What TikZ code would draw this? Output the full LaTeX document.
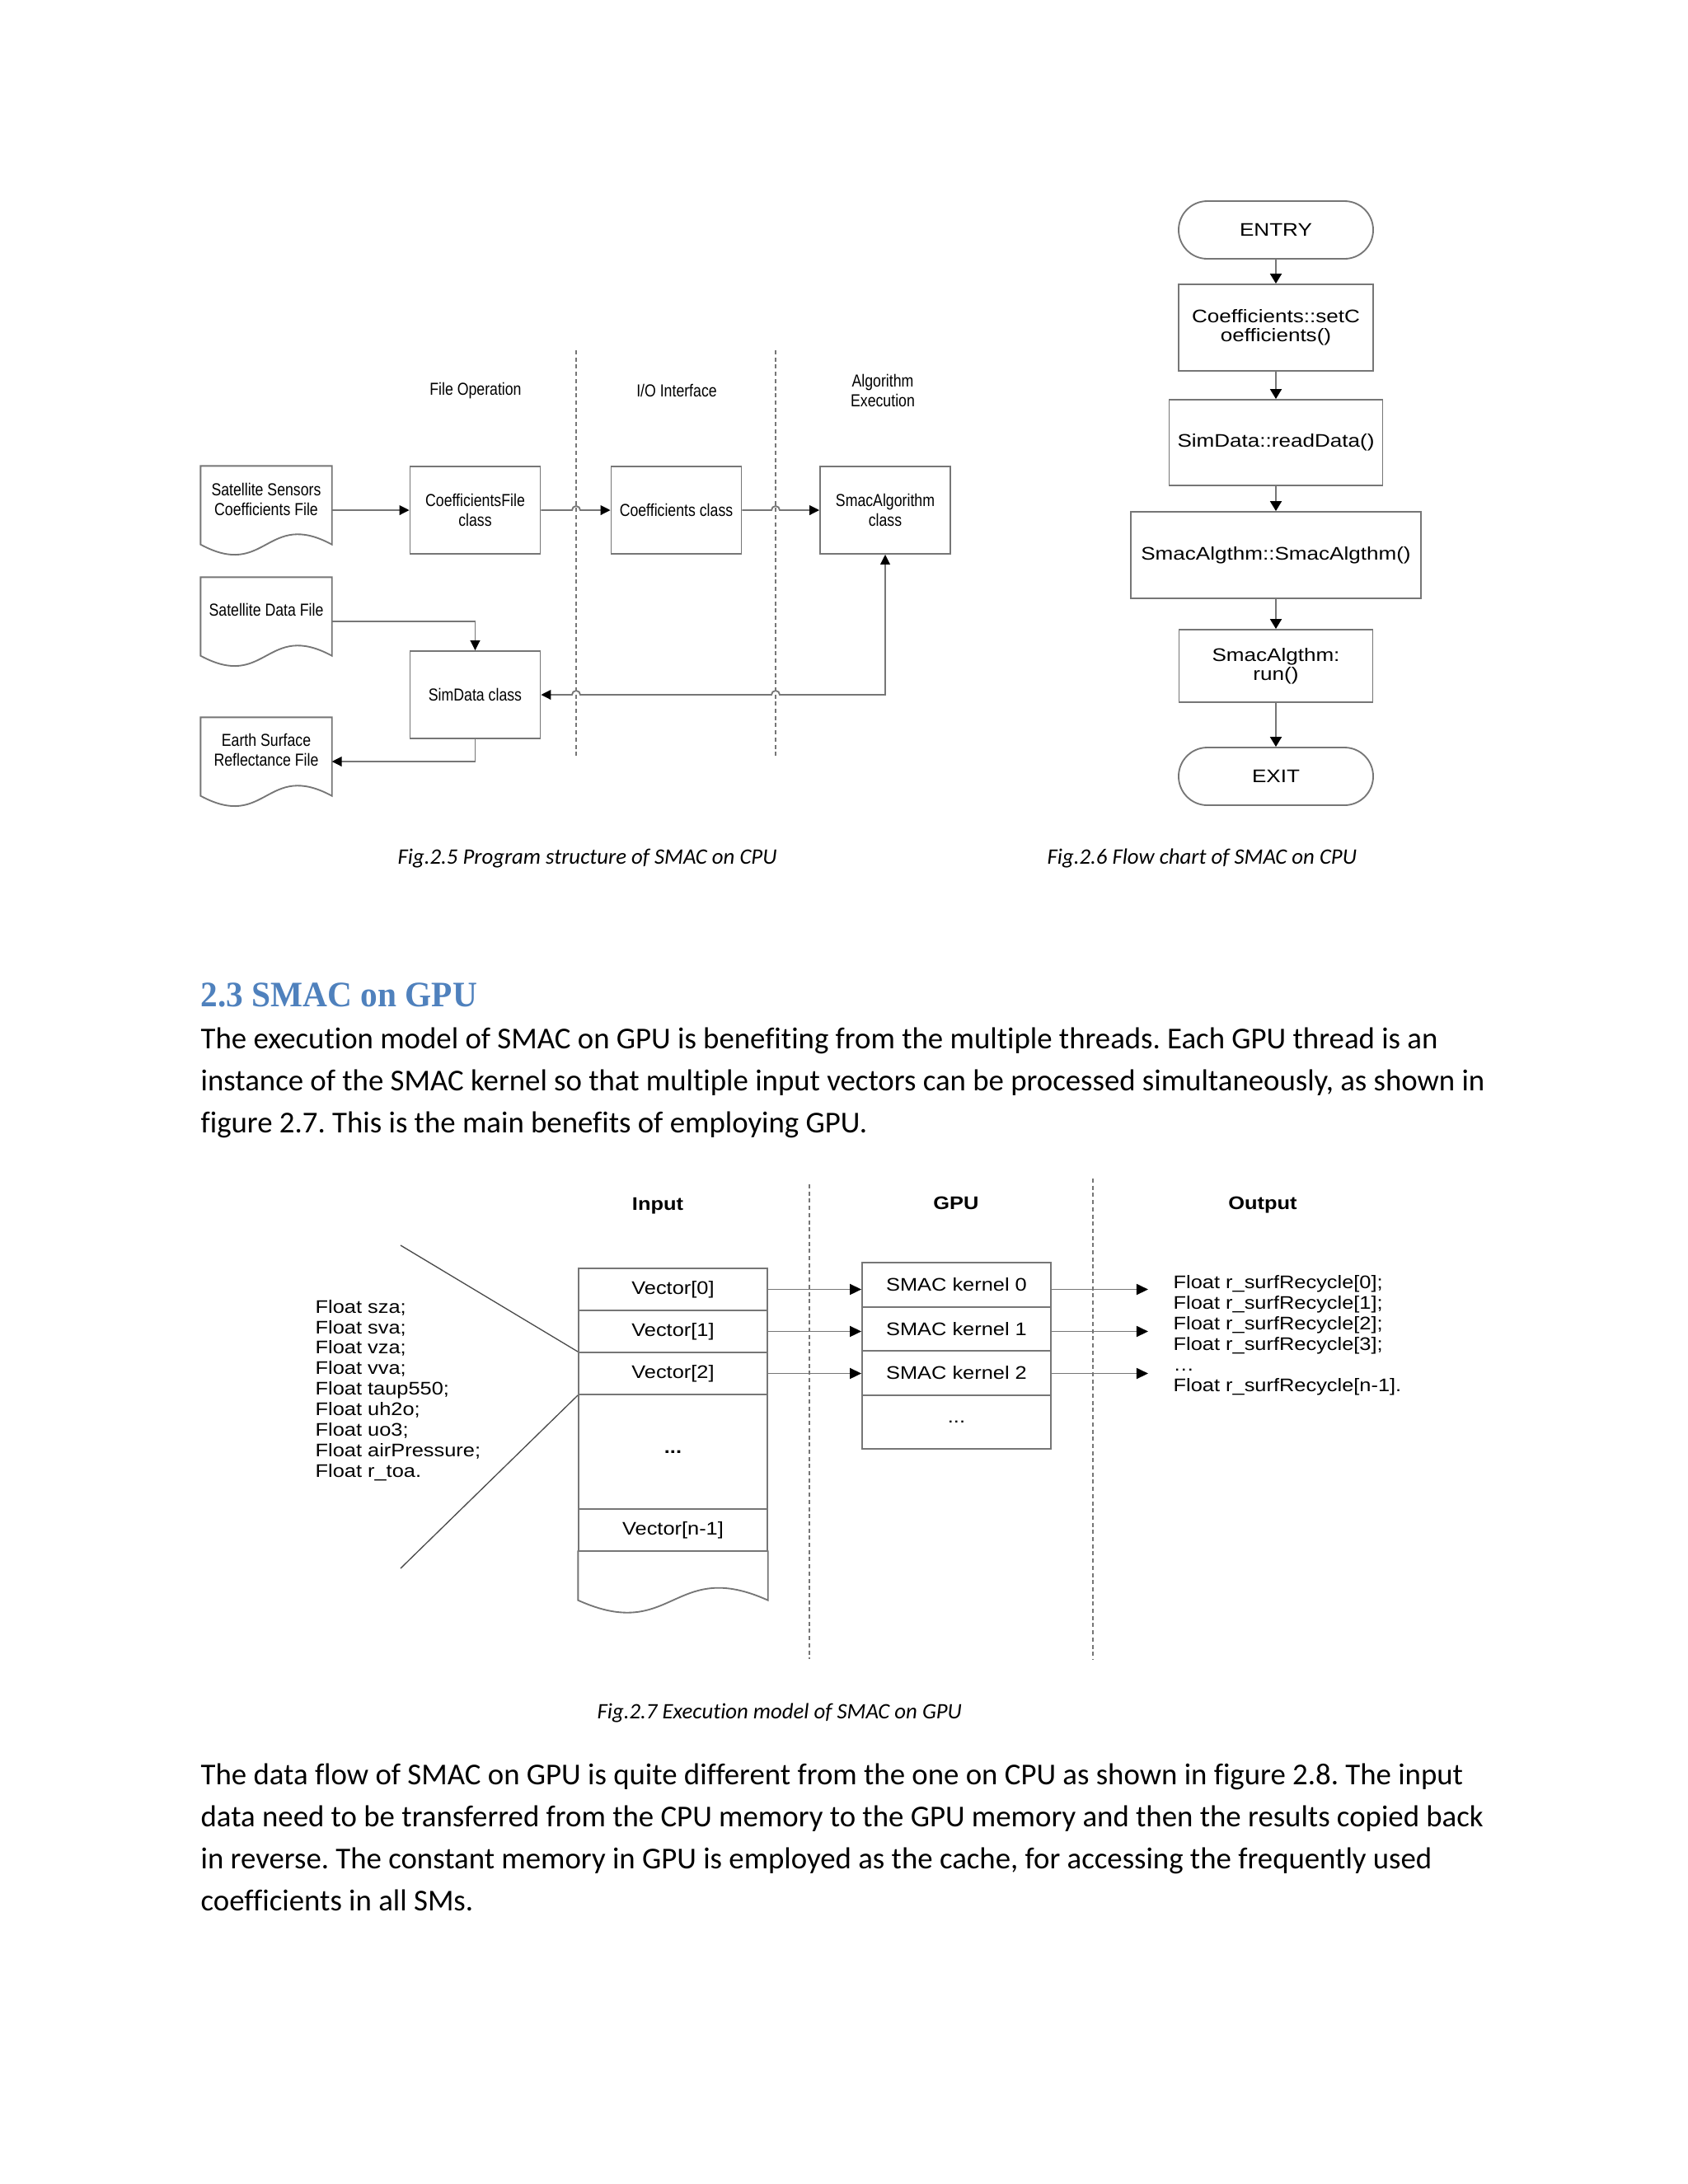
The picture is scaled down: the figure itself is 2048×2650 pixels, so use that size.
\documentclass[tikz,border=0pt]{standalone}
\usepackage{fontspec}
\setmainfont{Carlito}[Ligatures={TeX,NoCommon}]
\newfontfamily\fa[FakeStretch=0.84]{Liberation Sans}
\newfontfamily\fb[FakeStretch=1.18]{Liberation Sans}
\newfontfamily\fc[FakeStretch=1.15]{Liberation Sans}
\newfontfamily\fh[FakeStretch=0.95]{Liberation Serif}
\usetikzlibrary{arrows.meta,calc}
\newlength\upx
\setlength\upx{0.29883pt}
\definecolor{headblue}{RGB}{79,129,189}
\definecolor{linegray}{RGB}{118,118,118}
\frenchspacing
\tikzset{
  ftip/.tip={Triangle[length=3.6pt,width=3.5pt,color=black]},
  ftipB/.tip={Triangle[length=3.6pt,width=4.2pt,color=black]},
  ftipC/.tip={Triangle[length=4.2pt,width=3.9pt,color=black]},
  shapeline/.style={draw=linegray, line width=0.55pt},
  box/.style={shapeline, rectangle, inner sep=0pt, align=center},
  boxA/.style={box, minimum width=158\upx, minimum height=106\upx, font=\fa\fontsize{6.3}{7.3}\selectfont},
  docA/.style={inner sep=0pt, minimum width=158\upx, minimum height=106\upx},
  txtA/.style={align=center, inner sep=0pt, font=\fa\fontsize{6.3}{7.3}\selectfont},
  boxB/.style={box, font=\fb\fontsize{6.6}{6.9}\selectfont},
  term/.style={boxB, minimum width=236\upx, minimum height=70\upx, rounded corners=10.4pt},
  cell/.style={box, minimum width=229\upx, font=\fc\fontsize{6.6}{7.45}\selectfont},
  txtC/.style={align=left, inner sep=0pt, font=\fc\fontsize{6.6}{7.45}\selectfont},
  lblC/.style={inner sep=0pt, font=\fc\bfseries\fontsize{6.6}{7.45}\selectfont},
  conn/.style={draw=linegray, line width=0.55pt, -ftip},
  connB/.style={draw=linegray, line width=0.55pt, -ftipB},
  connC/.style={draw=linegray, line width=0.55pt, -ftipC},
  dashline/.style={draw=linegray, line width=0.45pt, dash pattern=on 1.5pt off 1.1pt},
  thinline/.style={draw=black!70, line width=0.4pt},
  figcap/.style={inner sep=0pt, font=\itshape\fontsize{8}{9}\selectfont},
  head/.style={inner sep=0pt, text=headblue, font=\fh\bfseries\fontsize{13}{15}\selectfont},
  body/.style={inner sep=0pt, font=\fontsize{11}{15.3}\selectfont}
}
\begin{document}
\begin{tikzpicture}[x=0.29883pt, y=-0.29883pt]
\useasboundingbox[fill=white] (0,0) rectangle (2048,2650);

% ---------------- Fig 2.5 ----------------
\coordinate (dl1t) at (699,425); \coordinate (dl1b) at (699,919);
\coordinate (dl2t) at (941,425); \coordinate (dl2b) at (941,919);
\draw[dashline] (dl1t) -- (dl1b);
\draw[dashline] (dl2t) -- (dl2b);

\node[txtA] (lfo) at (577,474) {File Operation};
\node[txtA] (lio) at (821,474) {I/O Interface};
\node[txtA] (lae) at (1071,474) {Algorithm\\Execution};

\node[docA] (sens) at (323,619) {};
\node[docA] (sdat) at (323,754) {};
\node[docA] (earth) at (323,924) {};
\foreach \n in {sens,sdat,earth}{
  \draw[shapeline] (\n.north west) -- (\n.north east) -- ([yshift=12\upx]\n.south east)
    .. controls ([yshift=55\upx]\n.south) and ([yshift=-31\upx]\n.south) .. ([yshift=12\upx]\n.south west) -- cycle;
}
\node[txtA] (sensT) at (323,606) {Satellite Sensors\\Coefficients File};
\node[txtA] (sdatT) at (323,740) {Satellite Data File};
\node[txtA] (earthT) at (323,910) {Earth Surface\\Reflectance File};

\node[boxA] (cf) at (576.5,619) {CoefficientsFile\\class};
\node[boxA] (cc) at (820.5,619) {Coefficients class};
\node[boxA] (sa) at (1074,619) {SmacAlgorithm\\class};
\node[boxA] (sim) at (576.5,843) {SimData class};

\draw[conn] (sens.east) -- (cf.west);
\draw[conn] (cf.east) -- ($(cf.east -| dl1t)+(-5,0)$) arc[start angle=180,end angle=0,radius=5\upx] -- (cc.west);
\draw[conn] (cc.east) -- ($(cc.east -| dl2t)+(-5,0)$) arc[start angle=180,end angle=0,radius=5\upx] -- (sa.west);
\draw[conn] (sdat.east) -| (sim.north);
\draw[conn] (sim.south) |- (earth.east);
\draw[draw=linegray, line width=0.55pt, ftip-ftip] (sim.east) -- ($(sim.east -| dl1t)+(-5,0)$) arc[start angle=180,end angle=0,radius=5\upx]
   -- ($(sim.east -| dl2t)+(-5,0)$) arc[start angle=180,end angle=0,radius=5\upx] -| (sa.south);

\node[figcap, anchor=base west] (cap25) at (482,1048) {Fig.2.5 Program structure of SMAC on CPU};

% ---------------- Fig 2.6 ----------------
\node[term] (entry) at (1548,279) {ENTRY};
\node[boxB, minimum width=236\upx, minimum height=105\upx] (setc) at (1548,397.5) {Coefficients::setC\\oefficients()};
\node[boxB, minimum width=259\upx, minimum height=104\upx] (read) at (1548,537) {SimData::readData()};
\node[boxB, minimum width=352\upx, minimum height=105\upx] (ctor) at (1548,673.5) {SmacAlgthm::SmacAlgthm()};
\node[boxB, minimum width=235\upx, minimum height=88\upx] (run) at (1548,808) {SmacAlgthm:\\run()};
\node[term] (exit) at (1548,942) {EXIT};
\draw[connB] (entry.south) -- (setc.north);
\draw[connB] (setc.south) -- (read.north);
\draw[connB] (read.south) -- (ctor.north);
\draw[connB] (ctor.south) -- (run.north);
\draw[connB] (run.south) -- (exit.north);

\node[figcap, anchor=base west] (cap26) at (1270,1048) {Fig.2.6 Flow chart of SMAC on CPU};

% ---------------- Text ----------------
\node[head, anchor=base west] (h23) at (243,1221) {2.3 SMAC on GPU};
\node[body, anchor=base west] (p1a) at (243,1272) {The execution model of SMAC on GPU is benefiting from the multiple threads. Each GPU thread is an};
\node[body, anchor=base west] (p1b) at (243,1323) {instance of the SMAC kernel so that multiple input vectors can be processed simultaneously, as shown in};
\node[body, anchor=base west] (p1c) at (243,1374) {figure 2.7. This is the main benefits of employing GPU.};

% ---------------- Fig 2.7 ----------------
\coordinate (gd1t) at (982,1437); \coordinate (gd1b) at (982,2013);
\coordinate (gd2t) at (1326,1430); \coordinate (gd2b) at (1326,2013);
\draw[dashline] (gd1t) -- (gd1b);
\draw[dashline] (gd2t) -- (gd2b);

\node[lblC] (lin) at (798,1463) {Input};
\node[lblC] (lgpu) at (1160,1460) {GPU};
\node[lblC] (lout) at (1532,1462) {Output};

\node[cell, minimum height=51\upx] (v0) at (816.5,1564.5) {Vector[0]};
\node[cell, minimum height=51\upx] (v1) at (816.5,1615.5) {Vector[1]};
\node[cell, minimum height=51\upx] (v2) at (816.5,1666.5) {Vector[2]};
\node[cell, minimum height=139\upx] (vd) at (816.5,1761.5) {\bfseries ...};
\node[cell, minimum height=51\upx] (vn) at (816.5,1856.5) {Vector[n-1]};
\node[inner sep=0pt, minimum width=229\upx, minimum height=74\upx] (vt) at (816.5,1919) {};
\draw[shapeline] (vt.north west) -- ([yshift=15\upx]vt.south west)
   .. controls ([yshift=-37\upx]vt.south) and ([yshift=67\upx]vt.south) .. ([yshift=15\upx]vt.south east) -- (vt.north east);

\node[cell, minimum height=54\upx] (k0) at (1160.5,1559) {SMAC kernel 0};
\node[cell, minimum height=53\upx] (k1) at (1160.5,1612.5) {SMAC kernel 1};
\node[cell, minimum height=54\upx] (k2) at (1160.5,1666) {SMAC kernel 2};
\node[cell, minimum height=65\upx] (kd) at (1160.5,1725.5) {...};

\draw[connC] (v0.east) -- (v0.east -| k0.west);
\draw[connC] (v1.east) -- (v1.east -| k1.west);
\draw[connC] (v2.east) -- (v2.east -| k2.west);

\coordinate (o0) at (1393,1564.5);
\coordinate (o1) at (1393,1615.5);
\coordinate (o2) at (1393,1666.5);
\draw[connC] (v0.east -| k0.east) -- (o0);
\draw[connC] (v1.east -| k1.east) -- (o1);
\draw[connC] (v2.east -| k2.east) -- (o2);

\node[txtC, anchor=west] (floats) at (382,1687) {Float sza;\\Float sva;\\Float vza;\\Float vva;\\Float taup550;\\Float uh2o;\\Float uo3;\\Float airPressure;\\Float r\_toa.};
\node[txtC, anchor=west] (outs) at (1423,1620) {Float r\_surfRecycle[0];\\Float r\_surfRecycle[1];\\Float r\_surfRecycle[2];\\Float r\_surfRecycle[3];\\…\\Float r\_surfRecycle[n-1].};

\coordinate (dg1) at (486,1511);
\coordinate (dg2) at (486,1903);
\draw[thinline] (dg1) -- (v2.north west);
\draw[thinline] (v2.south west) -- (dg2);

\node[figcap, anchor=base west] (cap27) at (724,2085) {Fig.2.7 Execution model of SMAC on GPU};

% ---------------- Text ----------------
\node[body, anchor=base west] (p2a) at (243,2165) {The data flow of SMAC on GPU is quite different from the one on CPU as shown in figure 2.8. The input};
\node[body, anchor=base west] (p2b) at (243,2216) {data need to be transferred from the CPU memory to the GPU memory and then the results copied back};
\node[body, anchor=base west] (p2c) at (243,2267) {in reverse. The constant memory in GPU is employed as the cache, for accessing the frequently used};
\node[body, anchor=base west] (p2d) at (243,2318) {coefficients in all SMs.};
\end{tikzpicture}
\end{document}
